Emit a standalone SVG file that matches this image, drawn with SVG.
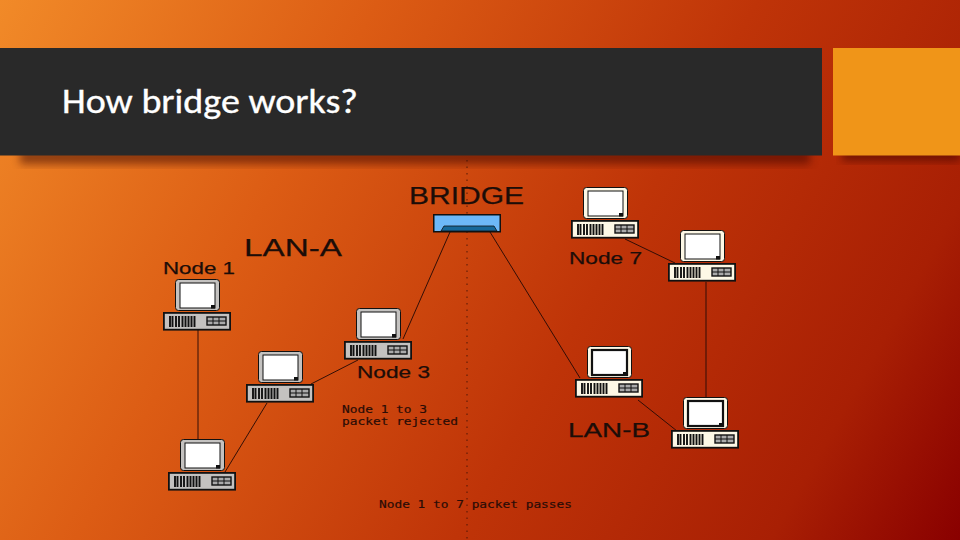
<svg xmlns="http://www.w3.org/2000/svg" xmlns:xlink="http://www.w3.org/1999/xlink" width="960" height="540" viewBox="0 0 960 540">
<style>
.wide{font-family:"Liberation Sans",Arial,sans-serif;fill:#1c0d08;stroke:#1c0d08;stroke-width:.25}
.mono{font-family:"DejaVu Sans Mono","Liberation Mono",monospace;font-size:11px;fill:#2a0c06;stroke:#2a0c06;stroke-width:.2}
.link{stroke:#2a0c06;stroke-width:.95;fill:none}
.grey{color:#c4c2c0}
.cream{color:#fdf8e6}
.scr{fill:none;stroke:#111;stroke-width:2.2}
</style>
<defs>
<linearGradient id="bg" gradientUnits="userSpaceOnUse" x1="0" y1="0" x2="960" y2="540">
<stop offset="0" stop-color="#f18a28"/>
<stop offset=".3" stop-color="#dc5c14"/>
<stop offset=".6" stop-color="#bf3408"/>
<stop offset=".85" stop-color="#a81f04"/>
<stop offset="1" stop-color="#890000"/>
</linearGradient>
<filter id="sh" x="-5%" y="-20%" width="110%" height="150%"><feGaussianBlur stdDeviation="4"/></filter>
<symbol id="pc" overflow="visible" viewBox="0 0 68 52" width="68" height="52">
<rect x="12.5" y=".5" width="44" height="31" rx="3" fill="currentColor" stroke="#111" stroke-width="1"/>
<rect x="17" y="4" width="35" height="25" fill="#fff" stroke="#111" stroke-width="1"/>
<rect x="48" y="26" width="4" height="3.5" fill="#111"/>
<rect x=".9" y="33.9" width="66.200" height="16.800" fill="currentColor" stroke="#111" stroke-width="1.800"/>
<path d="M7 37v11M9.500 37v11M13 37v11M16 37v11M19.500 37v11M22.500 37v11M25.500 37v11M28.500 37v11M31.500 37v11" stroke="#111" stroke-width="1.900"/>
<rect x="44" y="38" width="19" height="8" fill="#aaa" stroke="#111" stroke-width="1.400"/>
<path d="M44 42h19M50 38v8M56 38v8" stroke="#111" stroke-width="1"/>
</symbol>
</defs>
<rect id="background" width="960" height="540" fill="url(#bg)"/>
<g id="header">
<rect x="20" y="150" width="790" height="14" fill="#300" opacity=".5" filter="url(#sh)"/>
<rect x="842" y="150" width="118" height="11" fill="#300" opacity=".5" filter="url(#sh)"/>
<rect x="0" y="48" width="822" height="107.500" fill="#292929"/>
<rect x="833" y="48" width="127" height="107.500" fill="#f09518"/>
<text x="62" y="113" font-family="Carlito,Lato,'Open Sans',sans-serif" font-size="34" fill="#fff" stroke="#fff" stroke-width=".35" textLength="296" lengthAdjust="spacingAndGlyphs">How bridge works?</text>
</g>
<g id="connectors" class="link">
<path d="M467 160V540" stroke-dasharray="1.500 5" opacity=".8"/>
<path d="M198 330V440"/>
<path d="M225 472L267 403"/>
<path d="M311 384L358 360"/>
<path d="M450 232L403 339"/>
<path d="M490 232L580 378"/>
<path d="M625 239L675 263"/>
<path d="M706 282V397"/>
<path d="M638 400L677 431"/>
</g>
<g id="bridge">
<rect x="433.750" y="214.750" width="66.500" height="17" fill="#6db8f8" stroke="#111" stroke-width="1.500"/>
<path d="M444 226H494L497 231H441Z" fill="#16689a" stroke="#111" stroke-width=".8"/>
<text class="wide" x="409" y="204" font-size="23" textLength="115" lengthAdjust="spacingAndGlyphs">BRIDGE</text>
</g>
<g id="node-1"><use href="#pc" x="163" y="279" class="grey"/></g>
<g id="node-2"><use href="#pc" x="246" y="351" class="grey"/></g>
<g id="node-3"><use href="#pc" x="344" y="308" class="grey"/></g>
<g id="node-4"><use href="#pc" x="168" y="439" class="grey"/></g>
<g id="node-7"><use href="#pc" x="571" y="187" class="cream"/></g>
<g id="node-6"><use href="#pc" x="668" y="230" class="cream"/></g>
<g id="node-5"><use href="#pc" x="575" y="346" class="cream"/><rect class="scr" x="592" y="350" width="35" height="25"/></g>
<g id="node-8"><use href="#pc" x="671" y="397" class="cream"/><rect class="scr" x="688" y="401" width="35" height="25"/></g>
<g id="labels">
<text class="wide" x="244" y="256" font-size="23" textLength="98" lengthAdjust="spacingAndGlyphs">LAN-A</text>
<text class="wide" x="568" y="437" font-size="20" textLength="82" lengthAdjust="spacingAndGlyphs">LAN-B</text>
<text class="wide" x="163" y="274" font-size="16.500" textLength="72" lengthAdjust="spacingAndGlyphs">Node 1</text>
<text class="wide" x="357" y="378" font-size="16.500" textLength="73" lengthAdjust="spacingAndGlyphs">Node 3</text>
<text class="wide" x="569" y="264" font-size="16.500" textLength="73" lengthAdjust="spacingAndGlyphs">Node 7</text>
<text class="mono" x="342" y="413" textLength="85" lengthAdjust="spacingAndGlyphs">Node 1 to 3</text>
<text class="mono" x="342" y="425" textLength="116" lengthAdjust="spacingAndGlyphs">packet rejected</text>
<text class="mono" x="379" y="508" textLength="193" lengthAdjust="spacingAndGlyphs">Node 1 to 7 packet passes</text>
</g>
</svg>
